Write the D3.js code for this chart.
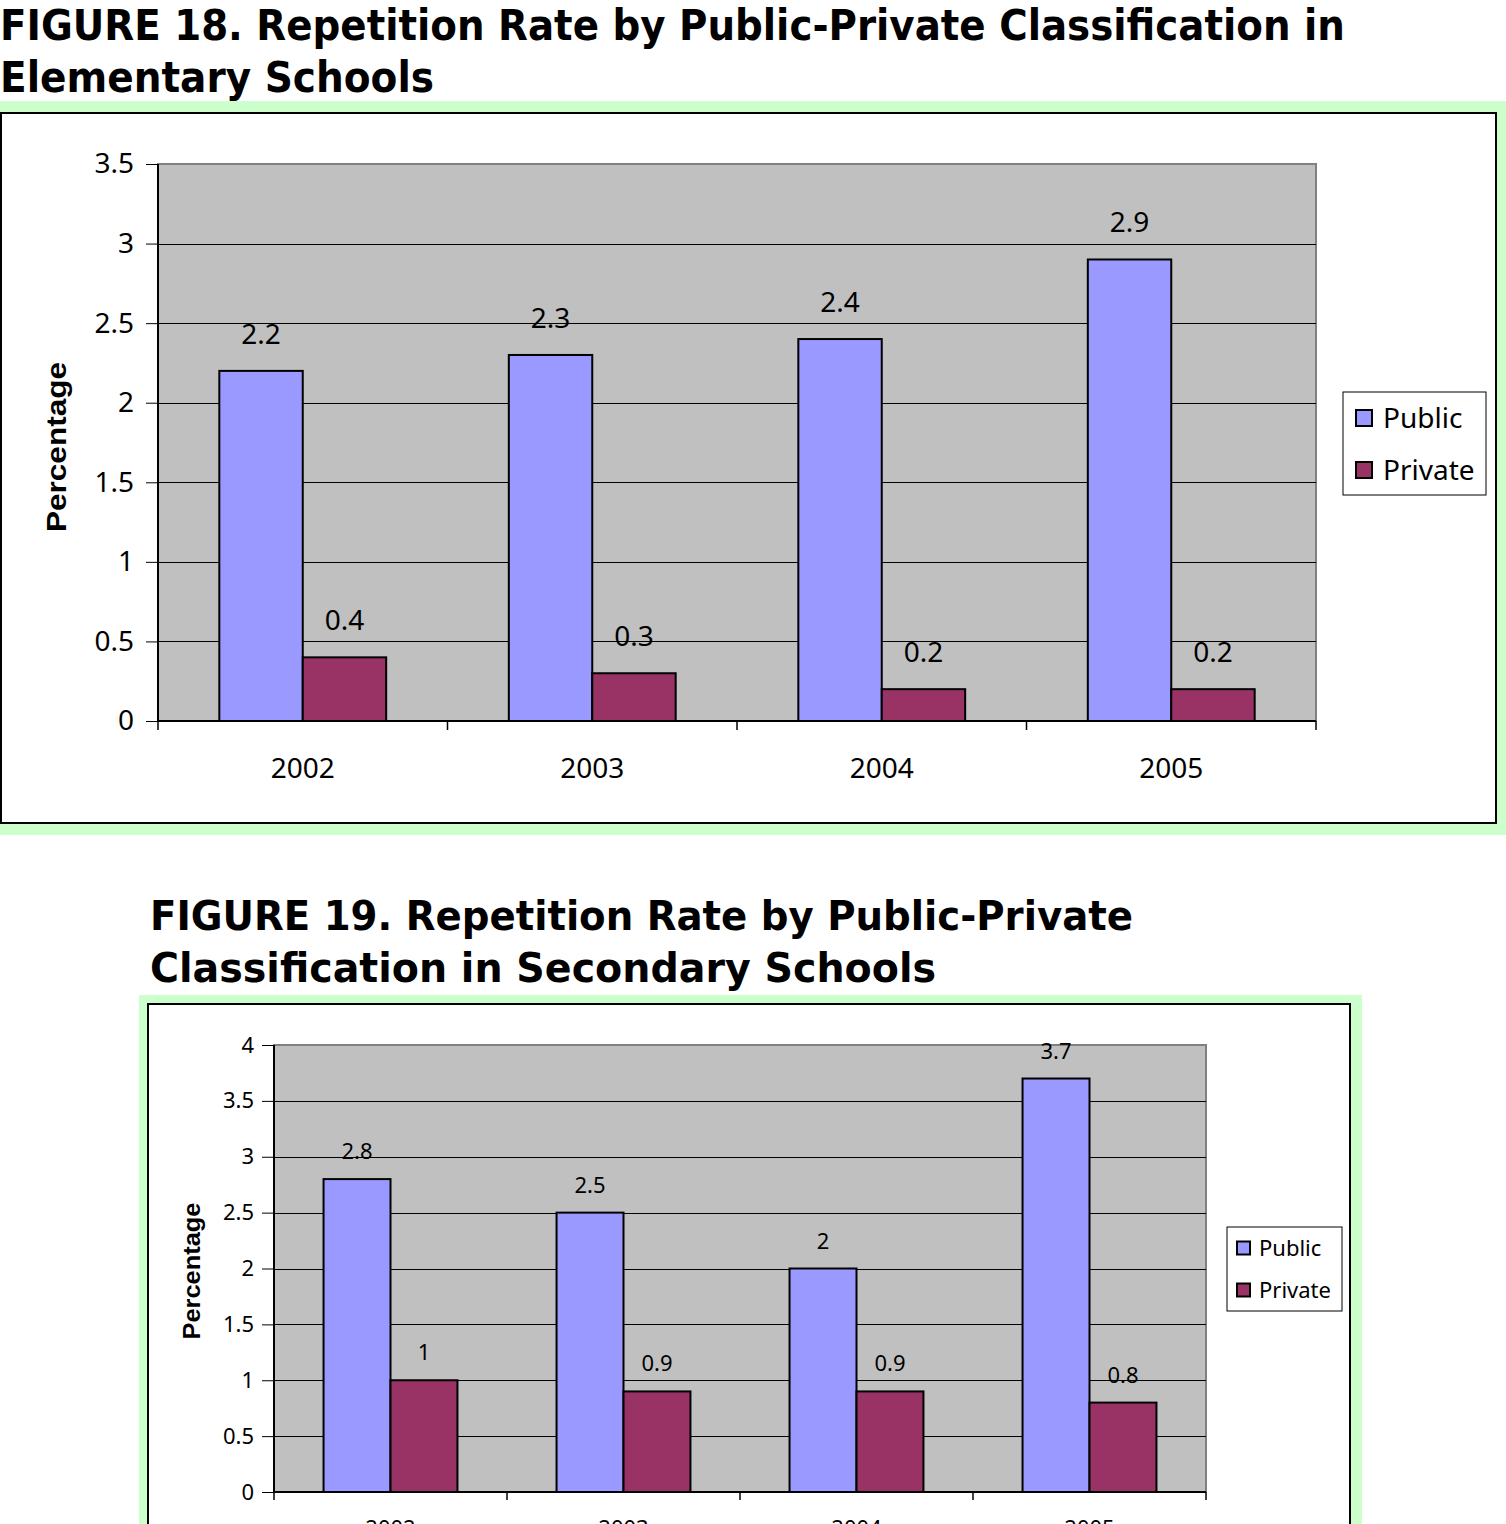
<!DOCTYPE html>
<html>
<head>
<meta charset="utf-8">
<script src="https://cdn.jsdelivr.net/npm/d3@7"></script>
<style>
  body { margin: 0; background: #fff; }
  svg { display: block; }
</style>
</head>
<body>
<div id="chart"></div>
<script>
// data
const years = ["2002", "2003", "2004", "2005"];
const seriesNames = ["Public", "Private"];
const seriesColors = ["#9999ff", "#993366"];

const elemPublic = [2.2, 2.3, 2.4, 2.9];
const elemPrivate = [0.4, 0.3, 0.2, 0.2];
const elemTicks = [0, 0.5, 1, 1.5, 2, 2.5, 3, 3.5];

const secPublic = [2.8, 2.5, 2, 3.7];
const secPrivate = [1, 0.9, 0.9, 0.8];
const secTicks = [0, 0.5, 1, 1.5, 2, 2.5, 3, 3.5, 4];

const elemTitle = ["FIGURE 18. Repetition Rate by Public-Private Classification in", "Elementary Schools"];
const secTitle = ["FIGURE 19. Repetition Rate by Public-Private", "Classification in Secondary Schools"];

const svg = d3.select("#chart").append("svg")
    .attr("width", 1506).attr("height", 1524);

const numFont = "'Noto Sans', 'DejaVu Sans', sans-serif";
const titleFont = "'Liberation Sans Narrow', 'DejaVu Sans Condensed', sans-serif";

function drawChart(cfg, pub, priv, ticks, title) {
    const g = svg.append("g");

    // title lines, stretched to the width seen in the picture
    title.forEach(function(line, i){
        g.append("text")
            .attr("x", cfg.titleX).attr("y", cfg.titleY[i])
            .attr("textLength", cfg.titleW[i])
            .attr("lengthAdjust", "spacingAndGlyphs")
            .style("font-family", titleFont)
            .style("font-weight", "bold")
            .style("font-size", cfg.titleSize + "px")
            .text(line);
    });

    // green frame + black box
    g.append("rect")
        .attr("x", cfg.frame[0]).attr("y", cfg.frame[1])
        .attr("width", cfg.frame[2]).attr("height", cfg.frame[3])
        .style("fill", "#ccffcc");
    g.append("rect")
        .attr("x", cfg.box[0]).attr("y", cfg.box[1])
        .attr("width", cfg.box[2]).attr("height", cfg.box[3])
        .style("fill", "#fff").style("stroke", "#000").style("stroke-width", 2);

    const x = d3.scaleBand().domain(years).range([cfg.left, cfg.right]).padding(0);
    const xs = d3.scaleBand().domain(seriesNames).range([0, x.bandwidth()])
                .paddingInner(0).paddingOuter(cfg.outer);
    const y = d3.scaleLinear().domain([0, ticks[ticks.length - 1]]).range([cfg.bottom, cfg.top]);

    // plot area
    g.append("rect")
        .attr("x", cfg.left).attr("y", cfg.top)
        .attr("width", cfg.right - cfg.left).attr("height", cfg.bottom - cfg.top)
        .style("fill", "#c0c0c0").style("stroke", "#808080").style("stroke-width", 2);

    // gridlines
    g.append("g").selectAll("line")
        .data(ticks.filter(d => d > 0 && d < ticks[ticks.length - 1]))
        .enter().append("line")
        .attr("x1", cfg.left).attr("x2", cfg.right)
        .attr("y1", d => Math.round(y(d)) + 0.5).attr("y2", d => Math.round(y(d)) + 0.5)
        .style("stroke", "#000").style("stroke-width", 1);

    // bars
    const rows = years.map((yr, i) => ({year: yr, vals: [pub[i], priv[i]]}));
    const grp = g.append("g").selectAll("g")
        .data(rows).enter().append("g")
        .attr("transform", d => "translate(" + x(d.year) + ",0)");

    grp.selectAll("rect")
        .data(d => d.vals.map((v, k) => ({name: seriesNames[k], v: v, k: k})))
        .enter().append("rect")
        .attr("x", d => xs(d.name))
        .attr("width", xs.bandwidth())
        .attr("y", d => y(d.v))
        .attr("height", d => cfg.bottom - y(d.v))
        .style("fill", d => seriesColors[d.k])
        .style("stroke", "#000").style("stroke-width", 2);

    grp.selectAll("text")
        .data(d => d.vals.map((v, k) => ({name: seriesNames[k], v: v})))
        .enter().append("text")
        .attr("x", d => xs(d.name) + xs.bandwidth() / 2)
        .attr("y", d => y(d.v) - cfg.labelGap)
        .attr("text-anchor", "middle")
        .style("font-family", numFont)
        .style("font-size", cfg.fontSize + "px")
        .text(d => d.v);

    // y axis
    const yAxis = d3.axisLeft(y).tickValues(ticks).tickSize(cfg.tickLen)
        .tickPadding(cfg.tickPad).tickFormat(d => d);
    const ya = g.append("g").attr("transform", "translate(" + cfg.left + ",0)").call(yAxis);
    ya.select(".domain").attr("d", "M0," + cfg.top + "V" + cfg.bottom).style("stroke-width", 2);
    ya.selectAll("text").style("font-family", numFont).style("font-size", cfg.fontSize + "px");

    // x axis, ticks on category boundaries
    g.append("line")
        .attr("x1", cfg.left).attr("x2", cfg.right)
        .attr("y1", cfg.bottom).attr("y2", cfg.bottom)
        .style("stroke", "#000").style("stroke-width", 2);
    const bounds = years.map(d => x(d)).concat([cfg.right]);
    g.append("g").selectAll("line")
        .data(bounds).enter().append("line")
        .attr("x1", d => d).attr("x2", d => d)
        .attr("y1", cfg.bottom).attr("y2", cfg.bottom + cfg.xTickLen)
        .style("stroke", "#000").style("stroke-width", 1.5);
    g.append("g").selectAll("text")
        .data(years).enter().append("text")
        .attr("x", d => x(d) + x.bandwidth() / 2)
        .attr("y", cfg.catY)
        .attr("text-anchor", "middle")
        .style("font-family", numFont)
        .style("font-size", cfg.fontSize + "px")
        .text(d => d);

    // axis title
    g.append("text")
        .attr("transform", "translate(" + cfg.yTitleX + "," + cfg.yTitleY + ") rotate(-90)")
        .attr("text-anchor", "middle")
        .attr("textLength", cfg.yTitleW)
        .attr("lengthAdjust", "spacingAndGlyphs")
        .style("font-family", "'Liberation Sans', Arial, sans-serif")
        .style("font-weight", "bold")
        .style("font-size", cfg.yTitleSize + "px")
        .text("Percentage");

    // legend
    const L = cfg.legend;
    const lg = g.append("g");
    lg.append("rect")
        .attr("x", L.x).attr("y", L.y).attr("width", L.w).attr("height", L.h)
        .style("fill", "#fff").style("stroke", "#000").style("stroke-width", 1);
    seriesNames.forEach(function(name, k){
        const cy = L.y + L.first + k * L.step;
        lg.append("rect")
            .attr("x", L.x + L.sw0).attr("y", cy - L.sw / 2)
            .attr("width", L.sw).attr("height", L.sw)
            .style("fill", seriesColors[k]).style("stroke", "#000").style("stroke-width", 2);
        lg.append("text")
            .attr("x", L.x + L.tx).attr("y", cy)
            .attr("dy", "0.36em")
            .style("font-family", numFont)
            .style("font-size", cfg.fontSize + "px")
            .text(name);
    });
}

drawChart({
    titleX: 0, titleY: [40, 92], titleW: [1345, 434], titleSize: 42,
    frame: [0, 101, 1506, 734], box: [1, 113, 1495, 710],
    left: 158, right: 1316, top: 164, bottom: 721, outer: 0.735,
    labelGap: 27, fontSize: 28, tickLen: 12, tickPad: 12, xTickLen: 9, catY: 778,
    yTitleX: 66, yTitleY: 447, yTitleSize: 28, yTitleW: 170,
    legend: {x: 1343, y: 392, w: 143, h: 103, first: 26, step: 52, sw0: 13, sw: 16, tx: 40}
}, elemPublic, elemPrivate, elemTicks, elemTitle);

drawChart({
    titleX: 150, titleY: [930, 982], titleW: [983, 786], titleSize: 40,
    frame: [139, 995, 1223, 560], box: [148, 1004, 1202, 560],
    left: 274, right: 1206, top: 1045, bottom: 1492, outer: 0.74,
    labelGap: 20, fontSize: 22, tickLen: 12, tickPad: 8, xTickLen: 8, catY: 1536,
    yTitleX: 200, yTitleY: 1271, yTitleSize: 23, yTitleW: 137,
    legend: {x: 1227, y: 1227, w: 115, h: 84, first: 21, step: 42, sw0: 10, sw: 13, tx: 32}
}, secPublic, secPrivate, secTicks, secTitle);
</script>
</body>
</html>
